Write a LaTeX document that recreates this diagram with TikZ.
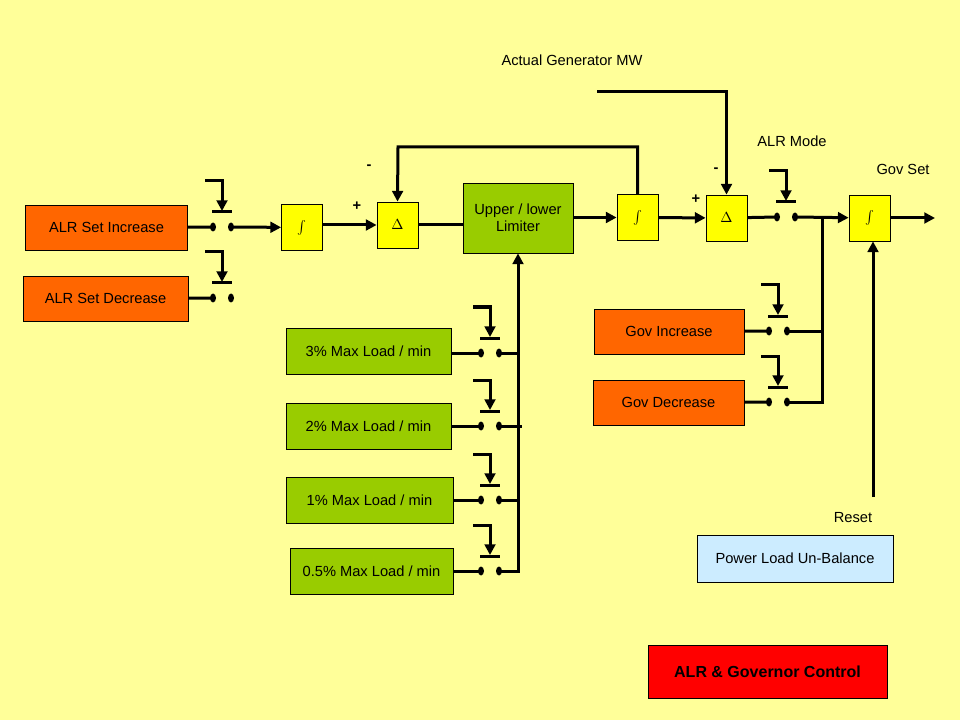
\documentclass[tikz,border=0pt]{standalone}
\usepackage{fontspec}
\setmainfont{Liberation Sans}
\usetikzlibrary{arrows.meta,positioning}

\definecolor{bgyellow}{RGB}{255,255,153}
\definecolor{boxorange}{RGB}{255,102,0}
\definecolor{boxgreen}{RGB}{153,204,0}
\definecolor{boxyellow}{RGB}{255,255,0}
\definecolor{boxblue}{RGB}{204,236,255}
\definecolor{boxred}{RGB}{255,0,0}

\tikzset{
  blk/.style={draw=black,line width=0.6pt,inner sep=0pt,font=\fontsize{11}{13}\selectfont,align=center},
  orangeblk/.style={blk,fill=boxorange},
  greenblk/.style={blk,fill=boxgreen},
  yellowblk/.style={blk,fill=boxyellow,minimum width=30.75pt,minimum height=34.5pt},
  wire/.style={line width=2.25pt},
  sig/.style={wire,-{Triangle[length=8pt,width=8pt]}},
  lbl/.style={inner sep=0.75pt,font=\fontsize{11}{13}\selectfont}
}

% switch: two contacts, a bar and a push arrow
\newcommand{\pushswitch}[3]{%
  \coordinate (#1-l) at (#2,#3);
  \coordinate (#1-r) at ({#2+18},#3);
  \fill (#1-l) ellipse (3 and 4.5);
  \fill (#1-r) ellipse (3 and 4.5);
  \draw [wire] ({#2-1},{#3-15}) -- ({#2+19},{#3-15});
  \draw [sig] ({#2-8},{#3-46}) -- ({#2+9},{#3-46}) -- ({#2+9},{#3-16});
}

\begin{document}
\begin{tikzpicture}[x=0.75pt,y=0.75pt,yscale=-1,xscale=1]
\fill [bgyellow] (0,0) rectangle (960,720);

%input buttons
\node [orangeblk,minimum width=122pt,minimum height=33.75pt] (setinc) at (106.5,227.5) {ALR Set Increase};
\node [orangeblk,minimum width=123.75pt,minimum height=33.75pt] (setdec) at (105.5,298.5) {ALR Set Decrease};
\pushswitch{swinc}{213}{227}
\pushswitch{swdec}{213}{298}
\draw [wire] (setinc) -- (swinc-l);
\draw [wire] (setdec) -- (swdec-l);

%integrators and deltas
\node [yellowblk] (int1) at (302,227.5) {$\int$};
\node [yellowblk] (del1) at (397.5,225) {\textbf{$\Delta$}};
\node [greenblk,minimum width=82.5pt,minimum height=52.5pt] (lim) at (518,218) {Upper / lower\\Limiter};
\node [yellowblk] (int2) at (637.5,217.5) {$\int$};
\node [yellowblk] (del2) at (726.5,218) {\textbf{$\Delta$}};
\node [yellowblk] (int3) at (869.5,218) {$\int$};

\draw [sig] (swinc-r) -- (int1);
\draw [sig] (int1.east |- del1) -- (del1);
\draw [wire] (del1) -- (lim.west |- del1);
\draw [sig] (lim.east |- int2) -- (int2);
\draw [sig] (int2) -- (del2);
\draw [sig] (int2.north) |- (398,147) -- (del1.north);

\node [lbl] at (357,206) {\textbf{+}};
\node [lbl] at (369,167) {\textbf{-}};
\node [lbl] at (696,199) {\textbf{+}};
\node [lbl] at (716,170) {\textbf{-}};

%generator feedback
\node [lbl] (genmw) at (572,60) {Actual Generator MW};
\coordinate (genin) at (597,92);
\draw [sig] (genin) -- (del2.north |- genin) -- (del2.north);

%ALR mode
\node [lbl] (alrmode) at (792,141) {ALR Mode};
\pushswitch{swmode}{777}{217}
\draw [wire] (del2) -- (swmode-l);
\coordinate (jct) at (822,217);
\draw [sig] (swmode-r) -- (int3);
\node [lbl] (govset) at (903,169) {Gov Set};
\coordinate (govout) at (935,218);
\draw [sig] (int3) -- (govout);

%governor buttons
\node [orangeblk,minimum width=112.5pt,minimum height=33.75pt] (govinc) at (669,331.5) {Gov Increase};
\node [orangeblk,minimum width=113.25pt,minimum height=33.75pt] (govdec) at (668.5,402.5) {Gov Decrease};
\pushswitch{swginc}{769}{331}
\pushswitch{swgdec}{769}{402}
\draw [wire] (govinc) -- (swginc-l);
\draw [wire] (govdec) -- (swgdec-l);
\draw [wire] (swginc-r) -- (822,331);
\draw [wire] (swgdec-r) -- (822,402) -- (jct);

%reset
\node [lbl] (reset) at (853,518) {Reset};
\node [blk,fill=boxblue,minimum width=147pt,minimum height=35.25pt] (unbal) at (795,558.5) {Power Load Un-Balance};
\draw [sig] (873,497) -- (int3.south -| 873,0);

%rate buttons
\node [greenblk,minimum width=123.75pt,minimum height=34.5pt] (r3) at (368.5,351) {3\% Max Load / min};
\node [greenblk,minimum width=123.75pt,minimum height=34.5pt] (r2) at (368.5,426) {2\% Max Load / min};
\node [greenblk,minimum width=125.25pt,minimum height=34.5pt] (r1) at (369.5,500) {1\% Max Load / min};
\node [greenblk,minimum width=122.25pt,minimum height=34.5pt] (r05) at (371.5,571) {0.5\% Max Load / min};
\pushswitch{sw3}{481}{353}
\pushswitch{sw2}{481}{426}
\pushswitch{sw1}{481}{500}
\pushswitch{sw05}{481}{571}
\draw [wire] (r3.east |- sw3-l) -- (sw3-l);
\draw [wire] (r2) -- (sw2-l);
\draw [wire] (r1) -- (sw1-l);
\draw [wire] (r05) -- (sw05-l);
\draw [wire] (sw3-r) -- (518,353);
\draw [wire] (sw2-r) -- (522,426);
\draw [wire] (sw1-r) -- (518,500);
\draw [sig] (sw05-r) -- (518,571) -- (lim.south);

%title
\node [blk,fill=boxred,minimum width=179.25pt,minimum height=39.75pt,font=\fontsize{12}{14}\selectfont\bfseries] (title) at (767.5,671.5) {ALR \& Governor Control};
\end{tikzpicture}
\end{document}
